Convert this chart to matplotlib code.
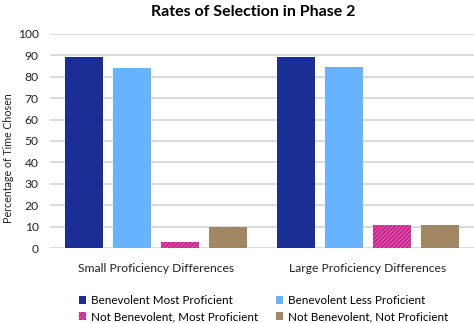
import matplotlib.pyplot as plt
import numpy as np

categories = ['Small Proficiency Differences', 'Large Proficiency Differences']
series_names = ['Benevolent Most Proficient', 'Benevolent Less Proficient',
                'Not Benevolent, Most Proficient', 'Not Benevolent, Not Proficient']
most_prof = [89, 89]
less_prof = [84, 84.5]
not_ben_most = [3, 11]
not_ben_not = [10, 11]
y_ticks = [0, 10, 20, 30, 40, 50, 60, 70, 80, 90, 100]

plt.rcParams['font.family'] = ['Lato', 'DejaVu Sans']
plt.rcParams['hatch.linewidth'] = 1.0

fig = plt.figure(figsize=(4.74, 3.23), dpi=100)
ax = fig.add_axes([0.105, 0.232, 0.895, 0.663])

x = np.arange(len(categories))
width = 0.18
step = 0.226
styles = [
    dict(color='#1B2E95'),
    dict(color='#66B3FF'),
    dict(facecolor='#E94AB0', edgecolor='#B8237F', hatch='////////', linewidth=0),
    dict(facecolor='#B78470', edgecolor='#8A8A55', hatch='////////', linewidth=0),
]
data = [most_prof, less_prof, not_ben_most, not_ben_not]
bars = []
for i, (vals, st) in enumerate(zip(data, styles)):
    b = ax.bar(x + (i - 1.5) * step, vals, width, label=series_names[i], zorder=3, **st)
    bars.append(b)

ax.set_xlim(-0.5, 1.5)
ax.set_ylim(0, 100)
ax.set_yticks(y_ticks)
ax.set_xticks(x)
ax.set_xticklabels(categories)
ax.tick_params(axis='both', length=0, labelsize=8.7, colors='#222222')
ax.tick_params(axis='x', pad=11)
ax.tick_params(axis='y', pad=8)
ax.grid(axis='y', color='#D4D4D4', linewidth=1.2, zorder=0)
for s in ax.spines.values():
    s.set_visible(False)
fig.text(9 / 474, 1 - 158 / 323, 'Percentage of Time Chosen', rotation=90,
         ha='center', va='center', fontsize=7.7, color='#222222')
fig.suptitle('Rates of Selection in Phase 2', x=0.534, fontsize=11.5, fontweight='bold', y=0.985)

order = [0, 2, 1, 3]
fig.legend([bars[i] for i in order], [series_names[i] for i in order],
           loc='lower left', bbox_to_anchor=(0.145, -0.03), ncol=2, frameon=False,
           fontsize=8.4, handlelength=0.6, handleheight=0.6, handletextpad=0.4,
           columnspacing=1.55, labelspacing=0.45)

fig.savefig('out.png', dpi=100)
